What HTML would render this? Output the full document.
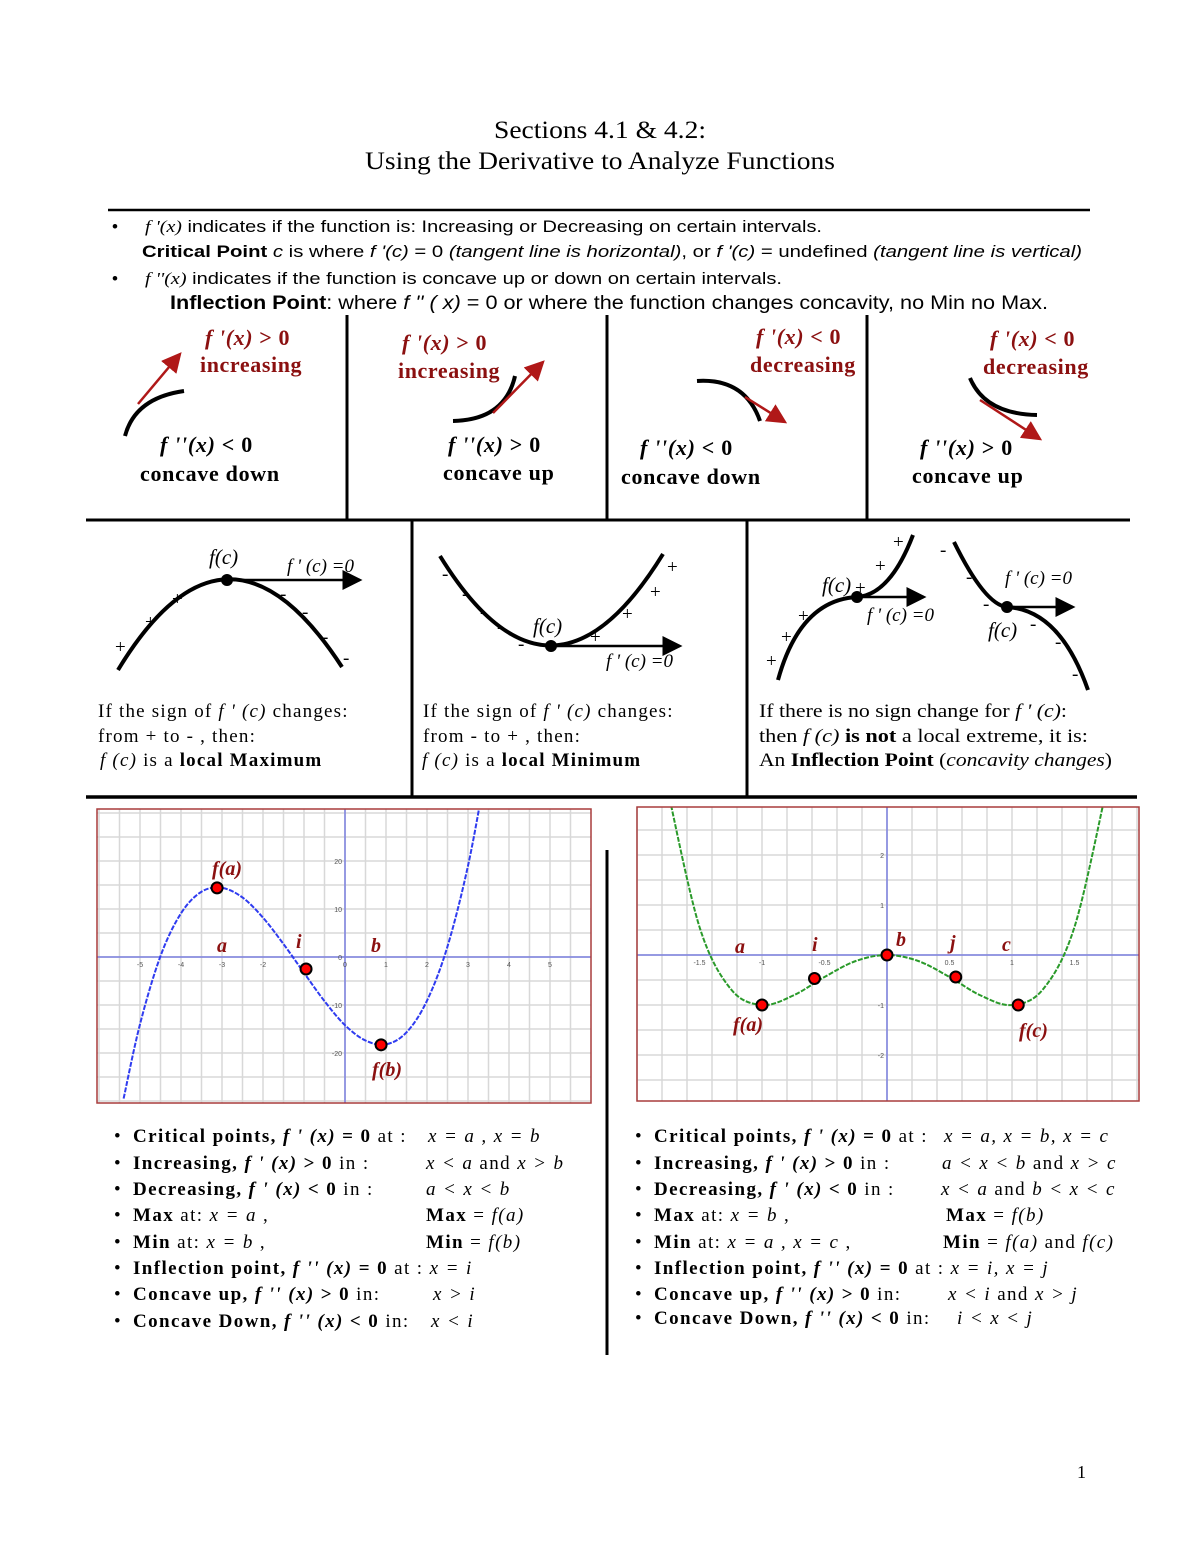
<!DOCTYPE html>
<html><head><meta charset="utf-8"><style>
html,body{margin:0;padding:0;background:#fff;}
svg{display:block;}
.t{font-family:"Liberation Serif",serif;}
.s{font-family:"Liberation Sans",sans-serif;}
.r{fill:#8b1010;font-weight:bold;font-family:"Liberation Serif",serif;font-size:22px;letter-spacing:0.6px;}
.k{fill:#000;font-weight:bold;font-family:"Liberation Serif",serif;font-size:22px;letter-spacing:0.7px;}
.i{font-style:italic;}
.mid{letter-spacing:1.2px;}
.lst{letter-spacing:1.4px;}
</style></head><body>
<svg id="page" width="1200" height="1553" viewBox="0 0 1200 1553" xmlns="http://www.w3.org/2000/svg">
<defs>
<marker id="ar" markerWidth="8" markerHeight="8" refX="7" refY="4" orient="auto"><path d="M0,0 L8,4 L0,8 Z" fill="#b01818"/></marker>
<marker id="ab" markerWidth="8" markerHeight="8" refX="7" refY="4" orient="auto"><path d="M0,0 L8,4 L0,8 Z" fill="#000"/></marker>
<clipPath id="c1"><rect x="97" y="809" width="494" height="294"/></clipPath>
<clipPath id="c2"><rect x="637" y="807" width="502" height="294"/></clipPath>
</defs>
<g class="t" font-size="25" text-anchor="middle">
<text x="600" y="138" textLength="212" lengthAdjust="spacingAndGlyphs">Sections 4.1 &amp; 4.2:</text>
<text x="600" y="169" textLength="470" lengthAdjust="spacingAndGlyphs">Using the Derivative to Analyze Functions</text>
</g>
<line x1="108" y1="210" x2="1090" y2="210" stroke="#000" stroke-width="2.5"/>
<g class="s" font-size="17">
<text x="112" y="232">•</text>
<text x="145" y="232" textLength="677" lengthAdjust="spacingAndGlyphs"><tspan class="t i">f '(x)</tspan> indicates if the function is: Increasing or Decreasing on certain intervals.</text>
<text x="142" y="257" textLength="940" lengthAdjust="spacingAndGlyphs"><tspan font-weight="bold">Critical Point</tspan> <tspan class="i">c</tspan> is where <tspan class="i">f '(c)</tspan> = 0 <tspan class="i">(tangent line is horizontal)</tspan>, or <tspan class="i">f '(c)</tspan> = undefined <tspan class="i">(tangent line is vertical)</tspan></text>
<text x="112" y="284">•</text>
<text x="145" y="284" textLength="637" lengthAdjust="spacingAndGlyphs"><tspan class="t i">f ''(x)</tspan> indicates if the function is concave up or down on certain intervals.</text>
<text x="170" y="309" font-size="19" textLength="878" lengthAdjust="spacingAndGlyphs"><tspan font-weight="bold">Inflection Point</tspan>: where <tspan class="i">f '' ( x)</tspan> = 0 or where the function changes concavity, no Min no Max.</text>
</g>
<g stroke="#000">
<line x1="347" y1="315" x2="347" y2="519" stroke-width="3"/>
<line x1="607" y1="315" x2="607" y2="519" stroke-width="3"/>
<line x1="867" y1="315" x2="867" y2="519" stroke-width="3"/>
<line x1="86" y1="520" x2="1130" y2="520" stroke-width="3"/>
<line x1="412" y1="520" x2="412" y2="797" stroke-width="3"/>
<line x1="747" y1="520" x2="747" y2="797" stroke-width="3"/>
<line x1="86" y1="797" x2="1137" y2="797" stroke-width="3.5"/>
<line x1="607" y1="850" x2="607" y2="1355" stroke-width="3"/>
</g>
<g>
<path d="M125,436 Q135,398 184,391" fill="none" stroke="#000" stroke-width="4"/>
<line x1="138" y1="404" x2="180" y2="354" stroke="#b01818" stroke-width="2.5" marker-end="url(#ar)"/>
<text class="r" x="205" y="345"><tspan class="i">f '(x)</tspan> &gt; 0</text>
<text class="r" x="200" y="372">increasing</text>
<text class="k" x="160" y="452"><tspan class="i">f ''(x)</tspan> &lt; 0</text>
<text class="k" x="140" y="481">concave down</text>
</g>
<g>
<path d="M453,421 Q505,420 515,376" fill="none" stroke="#000" stroke-width="4"/>
<line x1="493" y1="413" x2="543" y2="362" stroke="#b01818" stroke-width="2.5" marker-end="url(#ar)"/>
<text class="r" x="402" y="350"><tspan class="i">f '(x)</tspan> &gt; 0</text>
<text class="r" x="398" y="378">increasing</text>
<text class="k" x="448" y="452"><tspan class="i">f ''(x)</tspan> &gt; 0</text>
<text class="k" x="443" y="480">concave up</text>
</g>
<g>
<path d="M697,381 Q745,378 760,421" fill="none" stroke="#000" stroke-width="4"/>
<line x1="745" y1="397" x2="785" y2="422" stroke="#b01818" stroke-width="2.5" marker-end="url(#ar)"/>
<text class="r" x="756" y="344"><tspan class="i">f '(x)</tspan> &lt; 0</text>
<text class="r" x="750" y="372">decreasing</text>
<text class="k" x="640" y="455"><tspan class="i">f ''(x)</tspan> &lt; 0</text>
<text class="k" x="621" y="484">concave down</text>
</g>
<g>
<path d="M970,378 Q985,414 1037,415" fill="none" stroke="#000" stroke-width="4"/>
<line x1="980" y1="400" x2="1040" y2="439" stroke="#b01818" stroke-width="2.5" marker-end="url(#ar)"/>
<text class="r" x="990" y="346"><tspan class="i">f '(x)</tspan> &lt; 0</text>
<text class="r" x="983" y="374">decreasing</text>
<text class="k" x="920" y="455"><tspan class="i">f ''(x)</tspan> &gt; 0</text>
<text class="k" x="912" y="483">concave up</text>
</g>
<g class="t" font-size="19">
<path d="M118,670 Q227,490 342,667" fill="none" stroke="#000" stroke-width="4"/>
<line x1="227" y1="580" x2="360" y2="580" stroke="#000" stroke-width="2.5" marker-end="url(#ab)"/>
<circle cx="227" cy="580" r="6" fill="#000"/>
<text x="209" y="564" font-size="21" class="i">f(c)</text>
<text x="287" y="572" class="i">f ' (c) =0</text>
<text x="115" y="653">+</text><text x="145" y="628">+</text><text x="172" y="605">+</text>
<text x="280" y="600">-</text><text x="302" y="618">-</text><text x="322" y="643">-</text><text x="343" y="664">-</text>
<text class="mid" x="98" y="717">If the sign of <tspan class="i">f ' (c)</tspan> changes:</text>
<text class="mid" x="98" y="742">from + to - , then:</text>
<text class="mid" x="100" y="766"><tspan class="i">f (c)</tspan> is a <tspan font-weight="bold">local Maximum</tspan></text>
</g>
<g class="t" font-size="19">
<path d="M440,556 Q551,736 663,554" fill="none" stroke="#000" stroke-width="4"/>
<line x1="551" y1="646" x2="680" y2="646" stroke="#000" stroke-width="2.5" marker-end="url(#ab)"/>
<circle cx="551" cy="646" r="6" fill="#000"/>
<text x="533" y="633" font-size="21" class="i">f(c)</text>
<text x="606" y="667" class="i">f ' (c) =0</text>
<text x="442" y="580">-</text><text x="462" y="600">-</text><text x="480" y="618">-</text><text x="497" y="633">-</text><text x="518" y="650">-</text>
<text x="590" y="643">+</text><text x="622" y="620">+</text><text x="650" y="598">+</text><text x="667" y="573">+</text>
<text class="mid" x="423" y="717">If the sign of <tspan class="i">f ' (c)</tspan> changes:</text>
<text class="mid" x="423" y="742">from - to + , then:</text>
<text class="mid" x="422" y="766"><tspan class="i">f (c)</tspan> is a <tspan font-weight="bold">local Minimum</tspan></text>
</g>
<g class="t" font-size="19">
<path d="M778,680 Q800,600 857,597 Q890,595 913,535" fill="none" stroke="#000" stroke-width="4"/>
<line x1="857" y1="597" x2="924" y2="597" stroke="#000" stroke-width="2.5" marker-end="url(#ab)"/>
<circle cx="857" cy="597" r="6" fill="#000"/>
<path d="M954,542 Q985,605 1007,607 Q1060,610 1088,690" fill="none" stroke="#000" stroke-width="4"/>
<line x1="1007" y1="607" x2="1073" y2="607" stroke="#000" stroke-width="2.5" marker-end="url(#ab)"/>
<circle cx="1007" cy="607" r="6" fill="#000"/>
<text x="822" y="592" font-size="21" class="i">f(c)</text>
<text x="867" y="621" class="i">f ' (c) =0</text>
<text x="1005" y="584" class="i">f ' (c) =0</text>
<text x="988" y="637" font-size="21" class="i">f(c)</text>
<text x="766" y="667">+</text><text x="781" y="643">+</text><text x="798" y="622">+</text><text x="855" y="594">+</text><text x="875" y="572">+</text><text x="893" y="548">+</text>
<text x="940" y="556">-</text><text x="966" y="583">-</text><text x="983" y="610">-</text><text x="1030" y="630">-</text><text x="1055" y="648">-</text><text x="1072" y="680">-</text>
<text x="759" y="717" textLength="308" lengthAdjust="spacingAndGlyphs">If there is no sign change for <tspan class="i">f ' (c)</tspan>:</text>
<text x="759" y="742" textLength="329" lengthAdjust="spacingAndGlyphs">then <tspan class="i">f (c)</tspan> <tspan font-weight="bold">is not</tspan> a local extreme, it is:</text>
<text x="759" y="766" textLength="353" lengthAdjust="spacingAndGlyphs">An <tspan font-weight="bold">Inflection Point</tspan> (<tspan class="i">concavity changes</tspan>)</text>
</g>
<g id="g1"></g>
<g id="g2"></g>
<g class="t lst" font-size="19">
<text x="114" y="1142">•</text><text x="133" y="1142"><tspan font-weight="bold">Critical points, <tspan class="i">f ' (x)</tspan> = 0</tspan> at :</text><text x="428" y="1142" class="i">x = a , x = b</text>
<text x="114" y="1169">•</text><text x="133" y="1169"><tspan font-weight="bold">Increasing, <tspan class="i">f ' (x)</tspan> &gt; 0</tspan> in :</text><text x="426" y="1169"><tspan class="i">x &lt; a</tspan> and <tspan class="i">x &gt; b</tspan></text>
<text x="114" y="1195">•</text><text x="133" y="1195"><tspan font-weight="bold">Decreasing, <tspan class="i">f ' (x)</tspan> &lt; 0</tspan> in :</text><text x="426" y="1195" class="i">a &lt; x &lt; b</text>
<text x="114" y="1221">•</text><text x="133" y="1221"><tspan font-weight="bold">Max</tspan> at: <tspan class="i">x = a</tspan> ,</text><text x="426" y="1221"><tspan font-weight="bold">Max</tspan> = <tspan class="i">f(a)</tspan></text>
<text x="114" y="1248">•</text><text x="133" y="1248"><tspan font-weight="bold">Min</tspan> at: <tspan class="i">x = b</tspan> ,</text><text x="426" y="1248"><tspan font-weight="bold">Min</tspan> = <tspan class="i">f(b)</tspan></text>
<text x="114" y="1274">•</text><text x="133" y="1274"><tspan font-weight="bold">Inflection point, <tspan class="i">f '' (x)</tspan> = 0</tspan> at : <tspan class="i">x = i</tspan></text>
<text x="114" y="1300">•</text><text x="133" y="1300"><tspan font-weight="bold">Concave up, <tspan class="i">f '' (x)</tspan> &gt; 0</tspan> in:</text><text x="433" y="1300" class="i">x &gt; i</text>
<text x="114" y="1327">•</text><text x="133" y="1327"><tspan font-weight="bold">Concave Down, <tspan class="i">f '' (x)</tspan> &lt; 0</tspan> in:</text><text x="431" y="1327" class="i">x &lt; i</text>
</g>
<g class="t lst" font-size="19">
<text x="635" y="1142">•</text><text x="654" y="1142"><tspan font-weight="bold">Critical points, <tspan class="i">f ' (x)</tspan> = 0</tspan> at :</text><text x="944" y="1142" class="i">x = a, x = b, x = c</text>
<text x="635" y="1169">•</text><text x="654" y="1169"><tspan font-weight="bold">Increasing, <tspan class="i">f ' (x)</tspan> &gt; 0</tspan> in :</text><text x="942" y="1169"><tspan class="i">a &lt; x &lt; b</tspan> and <tspan class="i">x &gt; c</tspan></text>
<text x="635" y="1195">•</text><text x="654" y="1195"><tspan font-weight="bold">Decreasing, <tspan class="i">f ' (x)</tspan> &lt; 0</tspan> in :</text><text x="941" y="1195"><tspan class="i">x &lt; a</tspan> and <tspan class="i">b &lt; x &lt; c</tspan></text>
<text x="635" y="1221">•</text><text x="654" y="1221"><tspan font-weight="bold">Max</tspan> at: <tspan class="i">x = b</tspan> ,</text><text x="946" y="1221"><tspan font-weight="bold">Max</tspan> = <tspan class="i">f(b)</tspan></text>
<text x="635" y="1248">•</text><text x="654" y="1248"><tspan font-weight="bold">Min</tspan> at: <tspan class="i">x = a , x = c</tspan> ,</text><text x="943" y="1248"><tspan font-weight="bold">Min</tspan> = <tspan class="i">f(a)</tspan> and <tspan class="i">f(c)</tspan></text>
<text x="635" y="1274">•</text><text x="654" y="1274"><tspan font-weight="bold">Inflection point, <tspan class="i">f '' (x)</tspan> = 0</tspan> at : <tspan class="i">x = i, x = j</tspan></text>
<text x="635" y="1300">•</text><text x="654" y="1300"><tspan font-weight="bold">Concave up, <tspan class="i">f '' (x)</tspan> &gt; 0</tspan> in:</text><text x="948" y="1300"><tspan class="i">x &lt; i</tspan> and <tspan class="i">x &gt; j</tspan></text>
<text x="635" y="1324">•</text><text x="654" y="1324"><tspan font-weight="bold">Concave Down, <tspan class="i">f '' (x)</tspan> &lt; 0</tspan> in:</text><text x="957" y="1324" class="i">i &lt; x &lt; j</text>
</g>
<text class="t" x="1077" y="1478" font-size="18">1</text>
</svg>
<script>
// cubic graph data
const cubicX = [-5.4,-5,-4.5,-4,-3.5,-3,-2.5,-2,-1.5,-1,-0.5,0,0.5,1,1.5,2,2.5,3,3.4];
const cubicY = [-29.5,-14.0,0.2,9.1,13.6,14.4,12.4,8.2,2.7,-3.3,-9.2,-14.2,-17.4,-18.2,-15.7,-9.1,2.2,19.0,37.1];
const cubicPtsX = [-3.12,-0.95,0.88];
const cubicPtsY = [14.4,-2.5,-18.3];
const cubicXTicks = [-5,-4,-3,-2,0,1,2,3,4,5];
const cubicYTicks = [20,10,0,-10,-20];
// quartic graph data
const quartX = [-1.75,-1.5,-1.25,-1,-0.75,-0.5,-0.25,0,0.25,0.5,0.75,1,1.25,1.5,1.75];
const quartY = [3.25,0.56,-0.68,-1,-0.81,-0.44,-0.12,0,-0.12,-0.44,-0.81,-1,-0.68,0.56,3.25];
const quartPtsX = [-1,-0.58,0,0.55,1.05];
const quartPtsY = [-1,-0.47,0,-0.44,-1];
const quartXTicks = [-1.5,-1,-0.5,0.5,1,1.5];
const quartYTicks = [2,1,-1,-2];
const NS='http://www.w3.org/2000/svg';
function mk(p,tag,a){const e=document.createElementNS(NS,tag);for(const k in a)e.setAttribute(k,a[k]);p.appendChild(e);return e;}
function spline(pts){let d='M'+pts[0][0]+','+pts[0][1];for(let i=0;i<pts.length-1;i++){const p0=pts[Math.max(i-1,0)],p1=pts[i],p2=pts[i+1],p3=pts[Math.min(i+2,pts.length-1)];
d+=' C'+(p1[0]+(p2[0]-p0[0])/6)+','+(p1[1]+(p2[1]-p0[1])/6)+' '+(p2[0]-(p3[0]-p1[0])/6)+','+(p2[1]-(p3[1]-p1[1])/6)+' '+p2[0]+','+p2[1];}return d;}
function graph(g,box,sx,sy,gx,gy,xs,ys,px,py,xt,yt,color,clip,labels){
 mk(g,'rect',{x:box[0],y:box[1],width:box[2],height:box[3],fill:'#fff',stroke:'none'});
 for(let x=box[0]+((sx(0)-box[0])%gx);x<box[0]+box[2];x+=gx){const l=mk(g,'line',{x1:x,y1:box[1],x2:x,y2:box[1]+box[3],stroke:'#d8d8d8','stroke-width':1.5});}
 for(let y=box[1]+((sy(0)-box[1])%gy);y<box[1]+box[3];y+=gy){const l=mk(g,'line',{x1:box[0],y1:y,x2:box[0]+box[2],y2:y,stroke:'#d8d8d8','stroke-width':1.5});}
 const xa=mk(g,'line',{x1:box[0],y1:sy(0),x2:box[0]+box[2],y2:sy(0),stroke:'#7b7fe0','stroke-width':1.5});
 
 const ya=mk(g,'line',{x1:sx(0),y1:box[1],x2:sx(0),y2:box[1]+box[3],stroke:'#7b7fe0','stroke-width':1.5});
 
 xt.forEach(v=>{const t=mk(g,'text',{x:sx(v),y:sy(0)+10,'font-size':7,'text-anchor':'middle',fill:'#555','font-family':'Liberation Sans, sans-serif'});t.textContent=String(v);});
 yt.forEach(v=>{const t=mk(g,'text',{x:sx(0)-3,y:sy(v)+3,'font-size':7,'text-anchor':'end',fill:'#555','font-family':'Liberation Sans, sans-serif'});t.textContent=String(v);});
 const c=mk(g,'path',{d:spline(xs.map((x,i)=>[sx(x),sy(ys[i])])),fill:'none',stroke:color,'stroke-width':2,'stroke-dasharray':'5 1.5','clip-path':clip});
 
 px.forEach((x,i)=>{const p=mk(g,'circle',{cx:sx(x),cy:sy(py[i]),r:5.5,fill:'#f00',stroke:'#000','stroke-width':2});});
 labels.forEach(L=>{const t=mk(g,'text',{x:L[1],y:L[2],'font-size':20,fill:'#8b1010','font-weight':'bold','font-style':'italic','font-family':'Liberation Serif, serif'});t.textContent=L[0];});
 const f=mk(g,'rect',{x:box[0],y:box[1],width:box[2],height:box[3],fill:'none',stroke:'#a83c3c','stroke-width':1.5});
 
}
graph(document.getElementById('g1'),[97,809,494,294],x=>345+41*x,y=>957-4.8*y,20.5,24,cubicX,cubicY,cubicPtsX,cubicPtsY,cubicXTicks,cubicYTicks,'#2f3cf0','url(#c1)',
 [['f(a)',212,875],['a',217,952],['i',296,948],['b',371,952],['f(b)',372,1076]]);
graph(document.getElementById('g2'),[637,807,502,294],x=>887+125*x,y=>955-50*y,25,25,quartX,quartY,quartPtsX,quartPtsY,quartXTicks,quartYTicks,'#2a9a2a','url(#c2)',
 [['a',735,953],['i',812,951],['b',896,946],['j',950,949],['c',1002,951],['f(a)',733,1031],['f(c)',1019,1037]]);
</script>
</body></html>
